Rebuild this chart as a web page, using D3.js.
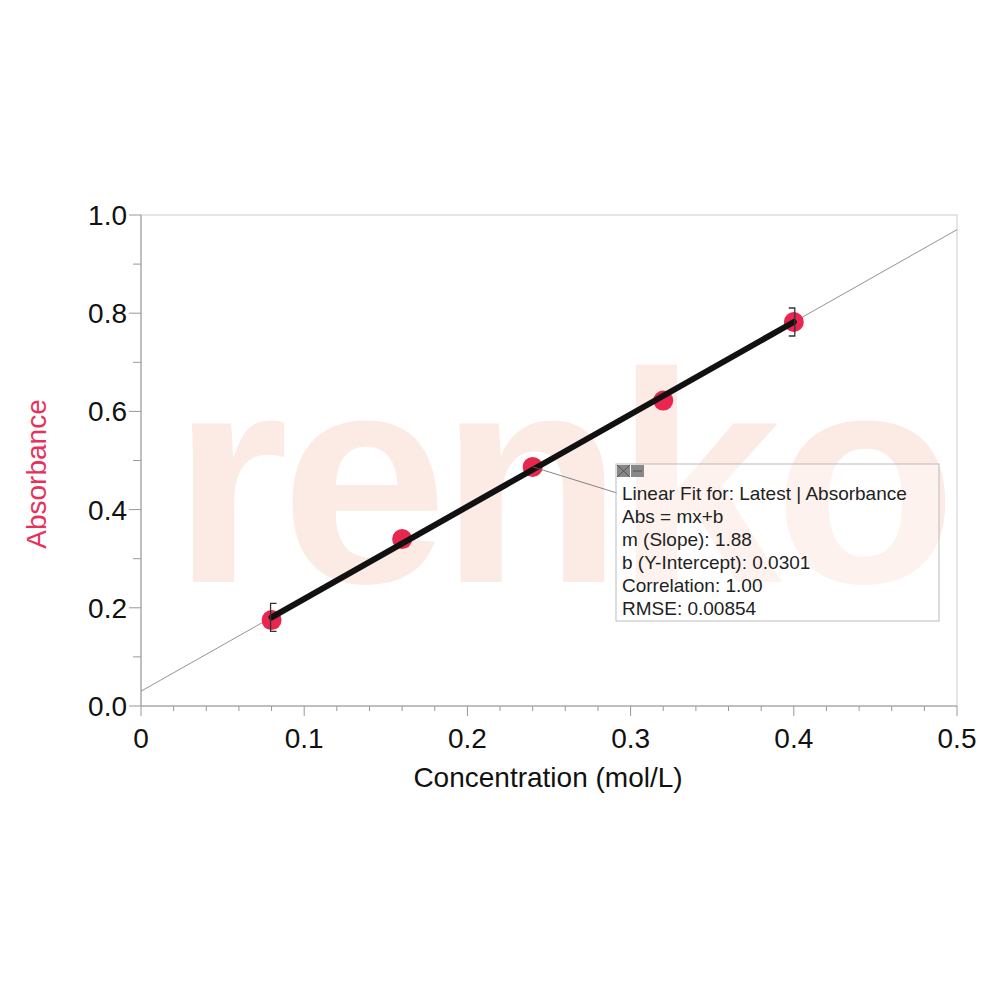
<!DOCTYPE html>
<html><head><meta charset="utf-8">
<script src="https://cdn.jsdelivr.net/npm/d3@7"></script>
<style>body{margin:0;background:#fff}text{font-family:Arial,"Liberation Sans",sans-serif}</style>
</head><body>
<svg id="chart" width="1000" height="1000"></svg>
<script>
// data
const concentration = [0.08, 0.16, 0.24, 0.32, 0.40];
const absorbance = [0.175, 0.340, 0.487, 0.622, 0.782];
const fitSlope = 1.88, fitIntercept = 0.0301;
const fitLines = ["Linear Fit for: Latest | Absorbance", "Abs = mx+b", "m (Slope): 1.88",
  "b (Y-Intercept): 0.0301", "Correlation: 1.00", "RMSE: 0.00854"];
const xTicks = [0, 0.1, 0.2, 0.3, 0.4, 0.5];
const yTicks = [0, 0.2, 0.4, 0.6, 0.8, 1.0];

const svg = d3.select("#chart");
const x = d3.scaleLinear().domain([0, 0.5]).range([141, 957]);
const y = d3.scaleLinear().domain([0, 1]).range([706, 215]);

//watermark
svg.append("text").attr("x", 172).attr("y", 582).attr("font-size", 300).attr("font-weight", "bold")
  .attr("font-family", "'DejaVu Sans', sans-serif").attr("letter-spacing", -8)
  .attr("fill", "#fcebe5").text("renko");

//frame
svg.append("rect").attr("x", 141).attr("y", 215).attr("width", 816).attr("height", 491)
  .attr("fill", "none").attr("stroke", "#ccc");

//x axis: minor ticks every 0.02
const xAxis = svg.append("g").attr("stroke", "#999");
d3.range(0, 0.5001, 0.02).forEach(v => {
  const major = Math.abs(v * 10 - Math.round(v * 10)) < 1e-6;
  xAxis.append("line").attr("x1", x(v)).attr("x2", x(v)).attr("y1", 706).attr("y2", major ? 716 : 711);
});
xAxis.append("line").attr("x1", 141).attr("x2", 957).attr("y1", 706).attr("y2", 706);
svg.selectAll(".xl").data(xTicks).join("text").attr("x", d => x(d)).attr("y", 748)
  .attr("text-anchor", "middle").attr("font-size", 28).attr("fill", "#111").text(d => d === 0 ? "0" : d3.format(".1f")(d));

//y axis: minor every 0.1
const yAxis = svg.append("g").attr("stroke", "#999");
d3.range(0, 1.0001, 0.1).forEach((v, i) => {
  yAxis.append("line").attr("x1", i % 2 ? 133 : 129).attr("x2", 141).attr("y1", y(v)).attr("y2", y(v));
});
yAxis.append("line").attr("x1", 141).attr("x2", 141).attr("y1", 215).attr("y2", 706);
svg.selectAll(".yl").data(yTicks).join("text").attr("x", 127).attr("y", d => y(d) + 10)
  .attr("text-anchor", "end").attr("font-size", 28).attr("fill", "#111").text(d => d3.format(".1f")(d));

svg.append("text").attr("x", 548).attr("y", 787).attr("text-anchor", "middle").attr("font-size", 28)
  .attr("fill", "#111").text("Concentration (mol/L)");
svg.append("text").attr("transform", "translate(46,474) rotate(-90)").attr("text-anchor", "middle")
  .attr("font-size", 28).attr("fill", "#e8315a").text("Absorbance");

//thin fit line across full range
const fit = v => fitSlope * v + fitIntercept;
svg.append("line").attr("x1", x(0)).attr("y1", y(fit(0))).attr("x2", x(0.5)).attr("y2", y(fit(0.5)))
  .attr("stroke", "#777").attr("stroke-width", 0.8);

//points
svg.selectAll(".pt").data(concentration).join("circle").attr("cx", d => x(d)).attr("cy", (d, i) => y(absorbance[i]))
  .attr("r", 10).attr("fill", "#e8264f");

//thick fit over data range
const x0 = d3.min(concentration), x1 = d3.max(concentration);
svg.append("line").attr("x1", x(x0)).attr("y1", y(fit(x0))).attr("x2", x(x1)).attr("y2", y(fit(x1)))
  .attr("stroke", "#111").attr("stroke-width", 6).attr("stroke-linecap", "round");

//range brackets
const bh = 14;
[[x0, 1], [x1, -1]].forEach(([v, s]) => {
  const bx = x(v) - s * 1, by = y(fit(v));
  svg.append("path").attr("d", `M${bx + s * 6},${by - bh}H${bx}V${by + bh}H${bx + s * 6}`)
    .attr("fill", "none").attr("stroke", "#333").attr("stroke-width", 1.3);
});

//annotation box
const bxL = 616, byT = 464;
svg.append("line").attr("x1", x(0.24)).attr("y1", y(0.487)).attr("x2", 617).attr("y2", 493)
  .attr("stroke", "#666").attr("stroke-width", 0.8);
svg.append("rect").attr("x", bxL).attr("y", byT).attr("width", 323).attr("height", 157)
  .attr("fill", "rgba(255,255,255,0.35)").attr("stroke", "#bbb");
svg.append("rect").attr("x", 617).attr("y", 465).attr("width", 13).attr("height", 12).attr("fill", "#888");
svg.append("path").attr("d", "M617,465L630,477M630,465L617,477").attr("stroke", "#555");
svg.append("rect").attr("x", 631).attr("y", 465).attr("width", 13).attr("height", 12).attr("fill", "#888");
svg.append("line").attr("x1", 633).attr("x2", 642).attr("y1", 471).attr("y2", 471).attr("stroke", "#555");
svg.selectAll(".fl").data(fitLines).join("text").attr("x", 622).attr("y", (d, i) => 500 + i * 23)
  .attr("font-size", 19).attr("fill", "#222").text(d => d);
</script>
</body></html>
